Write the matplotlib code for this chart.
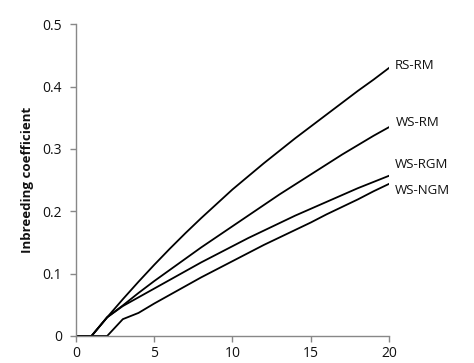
import matplotlib
matplotlib.use('Agg')
import matplotlib.pyplot as plt
import numpy as np

plt.rcParams['font.family'] = ['Open Sans', 'DejaVu Sans']

# generations
gen = list(range(0, 21))

# inbreeding coefficient per scheme
rs_rm = [0, 0, 0.030, 0.059, 0.087, 0.114, 0.140, 0.165, 0.189, 0.212, 0.235,
         0.256, 0.277, 0.297, 0.317, 0.336, 0.355, 0.374, 0.393, 0.411, 0.430]
ws_rm = [0, 0, 0.030, 0.049, 0.069, 0.088, 0.106, 0.124, 0.142, 0.159, 0.176,
         0.193, 0.210, 0.227, 0.243, 0.259, 0.275, 0.291, 0.306, 0.321, 0.335]
ws_rgm = [0, 0, 0.030, 0.048, 0.062, 0.076, 0.090, 0.104, 0.118, 0.131, 0.144,
          0.157, 0.169, 0.181, 0.193, 0.204, 0.215, 0.226, 0.237, 0.247, 0.257]
ws_ngm = [0, 0, 0, 0.027, 0.037, 0.052, 0.066, 0.080, 0.094, 0.107, 0.120,
          0.133, 0.146, 0.158, 0.170, 0.182, 0.195, 0.207, 0.219, 0.232, 0.244]

names = ['RS-RM', 'WS-RM', 'WS-RGM', 'WS-NGM']
series = [rs_rm, ws_rm, ws_rgm, ws_ngm]
# label offset (points) from line end
offs = [(4, 2), (5, 3), (4, 8), (4, -5)]

fig = plt.figure(figsize=(4.74, 3.63), dpi=100)
ax = fig.add_axes([0.160, 0.0744, 0.661, 0.859])

for name, s, o in zip(names, series, offs):
    ax.plot(gen, s, color='black', lw=1.3)
    ax.annotate(name, (gen[-1], s[-1]), xytext=o, textcoords='offset points',
                fontsize=9.5, va='center', ha='left', color='#111111',
                annotation_clip=False)

ax.set_xlim(0, 20)
ax.set_ylim(0, 0.5)
ax.set_xticks([0, 5, 10, 15, 20])
ax.set_yticks([0, 0.1, 0.2, 0.3, 0.4, 0.5])
ax.set_yticklabels(['0', '0.1', '0.2', '0.3', '0.4', '0.5'])
for sp in ['top', 'right']:
    ax.spines[sp].set_visible(False)
for sp in ['left', 'bottom']:
    ax.spines[sp].set_color('#888888')
    ax.spines[sp].set_linewidth(1.0)
ax.tick_params(colors='#888888', labelcolor='#111111', labelsize=10, length=4, width=1)
ax.tick_params(axis='x', pad=3.5)
ax.tick_params(axis='y', pad=6)
ax.set_ylabel('Inbreeding coefficient', fontsize=9.5, fontweight='bold', color='#111111', labelpad=6)

fig.savefig('out.png', dpi=100)
